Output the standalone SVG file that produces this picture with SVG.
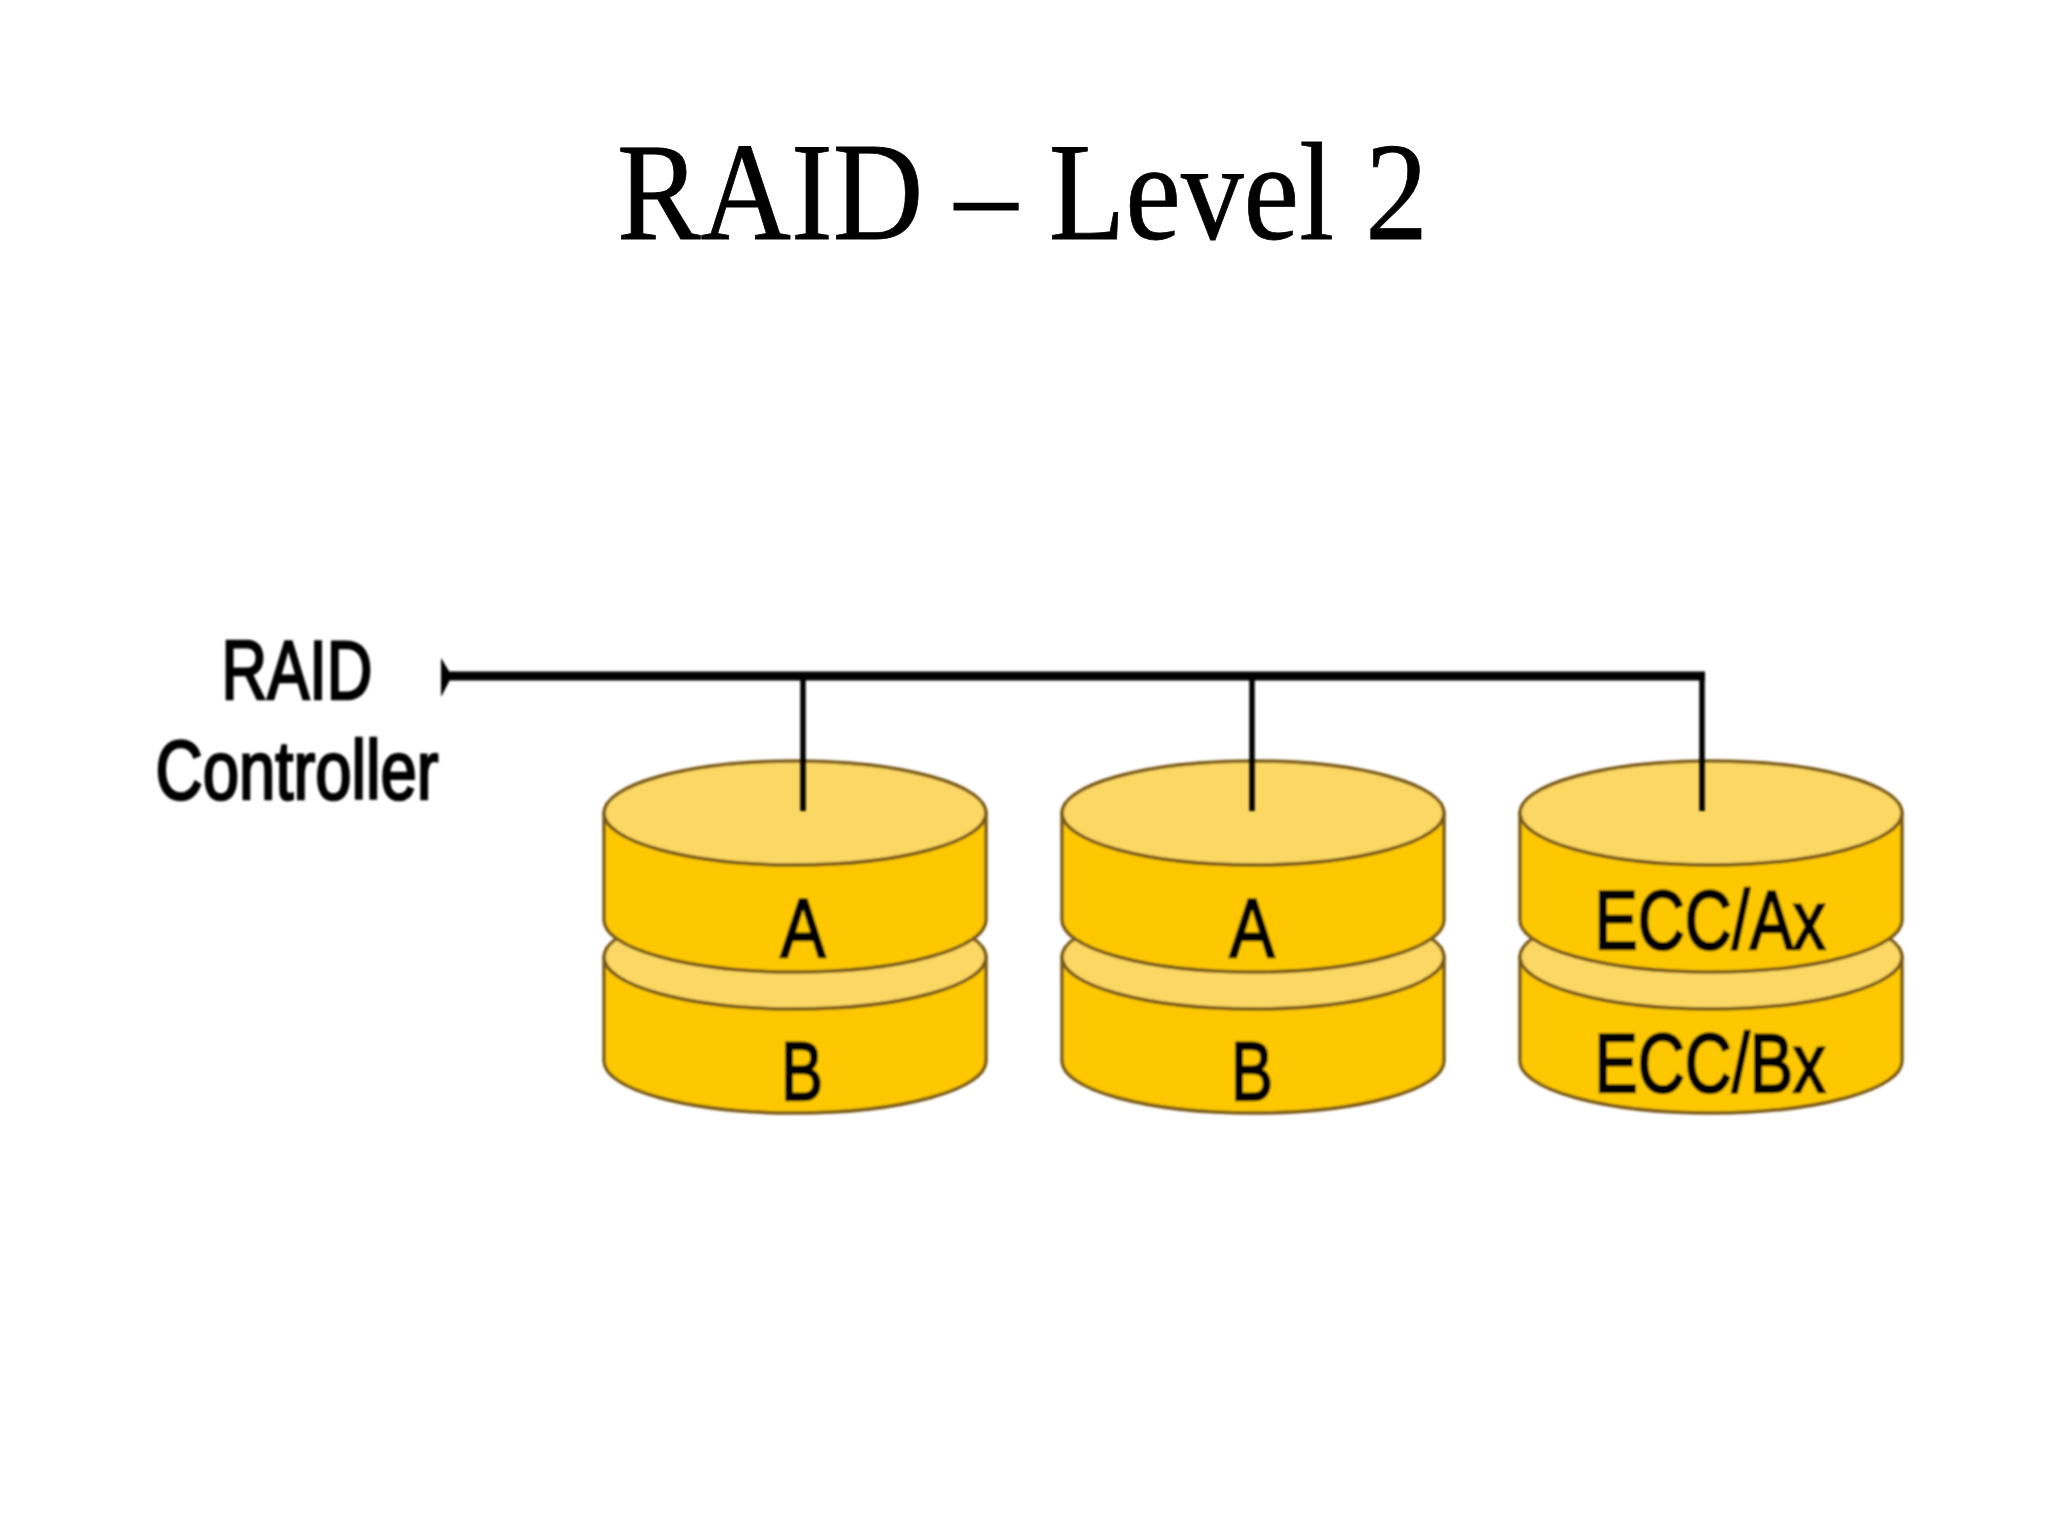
<svg xmlns="http://www.w3.org/2000/svg" xmlns:xlink="http://www.w3.org/1999/xlink" width="2048" height="1536" viewBox="0 0 2048 1536">
<style>
.side{fill:#fdc806;stroke:#7a5a18;stroke-width:3.5}
.top{fill:#fbd764;stroke:#7a5a18;stroke-width:3.5}
.lbl{font-family:"Liberation Sans",Arial,sans-serif;font-size:84px;fill:#050301;stroke:#050301;stroke-width:2.6;text-anchor:middle}
.title{font-family:"Liberation Serif","Times New Roman",serif;font-size:139px;fill:#000;stroke:#000;stroke-width:.8}
.bus{fill:none;stroke:#000;stroke-linecap:butt}
.soft{filter:url(#soft)}
</style>
<defs>
<filter id="soft" x="-5%" y="-5%" width="110%" height="110%"><feGaussianBlur stdDeviation="0.9"/></filter>
<g id="platter-pair">
<path class="side" d="M-191 957V1061A191 52 0 0 0 191 1061V957Z"/>
<ellipse class="top" cx="0" cy="957" rx="191" ry="52"/>
<path class="side" d="M-191 813V920A191 52 0 0 0 191 920V813Z"/>
<ellipse class="top" cx="0" cy="813" rx="191" ry="52"/>
</g>
</defs>
<rect width="2048" height="1536" fill="#fff"/>
<text class="title" x="617" y="239" textLength="811" lengthAdjust="spacingAndGlyphs">RAID – Level 2</text>
<g id="controller" class="soft">
<text class="lbl" x="297" y="699" textLength="151" lengthAdjust="spacingAndGlyphs">RAID</text>
<text class="lbl" x="297" y="799" textLength="283" lengthAdjust="spacingAndGlyphs">Controller</text>
</g>
<g id="disk-1" class="soft">
<use xlink:href="#platter-pair" href="#platter-pair" x="795"/>
<text class="lbl" x="803" y="957" textLength="45" lengthAdjust="spacingAndGlyphs">A</text>
<text class="lbl" x="802" y="1100" textLength="42" lengthAdjust="spacingAndGlyphs">B</text>
</g>
<g id="disk-2" class="soft">
<use xlink:href="#platter-pair" href="#platter-pair" x="1253"/>
<text class="lbl" x="1252" y="957" textLength="45" lengthAdjust="spacingAndGlyphs">A</text>
<text class="lbl" x="1252" y="1100" textLength="42" lengthAdjust="spacingAndGlyphs">B</text>
</g>
<g id="disk-3" class="soft">
<use xlink:href="#platter-pair" href="#platter-pair" x="1711"/>
<text class="lbl" x="1710" y="949" textLength="231" lengthAdjust="spacingAndGlyphs">ECC/Ax</text>
<text class="lbl" x="1710" y="1092" textLength="231" lengthAdjust="spacingAndGlyphs">ECC/Bx</text>
</g>
<g id="connectors" class="soft">
<path class="bus" stroke-width="9" d="M446 676H1705"/>
<path class="bus" stroke-width="5.5" d="M803 676V811M1252 676V811M1702 676V811"/>
<path d="M441 658L452 676L441 697Z" fill="#000"/>
</g>
</svg>
